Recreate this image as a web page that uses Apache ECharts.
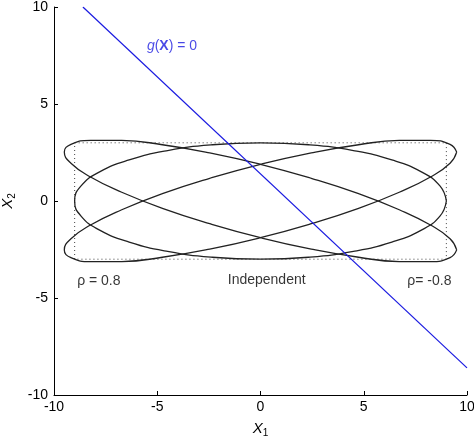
<!DOCTYPE html>
<html>
<head>
<meta charset="utf-8">
<script src="https://cdn.jsdelivr.net/npm/echarts@6/dist/echarts.min.js"></script>
<style>
  html, body { margin: 0; padding: 0; background: #fff; }
  #chart { width: 474px; height: 440px; }
</style>
</head>
<body>
<div id="chart"></div>
<script>
// Contours of X1-X2 for three correlation cases, with the limit-state line g(X) = 0
const FONT = '"Liberation Sans", Arial, Helvetica, sans-serif'

const xTicks = [-10, -5, 0, 5, 10]
const yTicks = [-10, -5, 0, 5, 10]

// dotted bounding box
const boxPts = [[-9, 3], [9, 3], [9, -3], [-9, -3], [-9, 3]]

// contour, independent case
const indepPts = [
  [9, 0], [8.69, 0.78], [7.79, 1.5], [6.36, 2.12], [4.5, 2.6], [2.33, 2.9], [0, 3],
  [-2.33, 2.9], [-4.5, 2.6], [-6.36, 2.12], [-7.79, 1.5], [-8.69, 0.78], [-9, 0],
  [-8.69, -0.78], [-7.79, -1.5], [-6.36, -2.12], [-4.5, -2.6], [-2.33, -2.9], [0, -3],
  [2.33, -2.9], [4.5, -2.6], [6.36, -2.12], [7.79, -1.5], [8.69, -0.78], [9, 0]
]

// contour, rho = -0.8 (tips upper-left / lower-right)
const negPts = [
  [9.5, -2.52], [9.18, -1.95], [8.23, -1.24], [6.72, -0.45], [4.75, 0.38], [2.46, 1.17], [0, 1.89],
  [-2.46, 2.48], [-4.75, 2.9], [-6.72, 3.12], [-8.23, 3.13], [-9.18, 2.92], [-9.5, 2.52],
  [-9.18, 1.95], [-8.23, 1.24], [-6.72, 0.45], [-4.75, -0.38], [-2.46, -1.17], [0, -1.89],
  [2.46, -2.48], [4.75, -2.9], [6.72, -3.12], [8.23, -3.13], [9.18, -2.92], [9.5, -2.52]
]

// contour, rho = 0.8 (tips lower-left / upper-right)
const posPts = [
  [9.5, 2.52], [9.18, 1.95], [8.23, 1.24], [6.72, 0.45], [4.75, -0.38], [2.46, -1.17], [0, -1.89],
  [-2.46, -2.48], [-4.75, -2.9], [-6.72, -3.12], [-8.23, -3.13], [-9.18, -2.92], [-9.5, -2.52],
  [-9.18, -1.95], [-8.23, -1.24], [-6.72, -0.45], [-4.75, 0.38], [-2.46, 1.17], [0, 1.89],
  [2.46, 2.48], [4.75, 2.9], [6.72, 3.12], [8.23, 3.13], [9.18, 2.92], [9.5, 2.52]
]

// limit-state line g(X) = 0
const limitPts = [[-8.6, 10], [10, -8.6]]

// annotations
const noteText = ['ρ = 0.8', 'Independent', 'ρ= -0.8']
const noteX = [-8.88, 0.3, 7.11]
const noteY = [-4.12, -4.07, -4.12]
const noteAlign = ['left', 'center', 'left']
const gLabelPos = [-5.5, 8]

const INK = '#222'
const BLUE = '#1a1ae0'

const chart = echarts.init(document.getElementById('chart'), null, { renderer: 'canvas' })

const axisCommon = {
  type: 'value', min: -10, max: 10, interval: 5,
  axisLine: { onZero: false, lineStyle: { color: '#000', width: 1 } },
  axisTick: { inside: true, length: 4, lineStyle: { color: '#000' } },
  splitLine: { show: false },
  axisLabel: { color: '#000', fontSize: 14, fontFamily: FONT },
  nameLocation: 'middle',
  nameTextStyle: {
    color: '#000', fontSize: 15, fontFamily: FONT,
    rich: {
      v: { fontStyle: 'italic', fontSize: 15, fontFamily: FONT, color: '#000', lineHeight: 18 },
      s: { fontSize: 10, fontFamily: FONT, color: '#000', lineHeight: 18, verticalAlign: 'bottom', padding: [6, 0, 0, 0] }
    }
  }
}

const curve = (data, z) => ({
  type: 'line', data, smooth: true, symbol: 'none', z,
  lineStyle: { color: INK, width: 1.3 }
})

chart.setOption({
  animation: false,
  textStyle: { fontFamily: FONT },
  grid: { left: 54, right: 7, top: 7, bottom: 45, containLabel: false, outerBoundsMode: 'none' },
  xAxis: Object.assign({}, axisCommon, {
    name: '{v|X}{s|1}', nameGap: 25,
    axisLabel: Object.assign({}, axisCommon.axisLabel, { margin: 5 })
  }),
  yAxis: Object.assign({}, axisCommon, {
    name: '{v|X}{s|2}', nameGap: 34,
    axisLabel: Object.assign({}, axisCommon.axisLabel, { margin: 6 })
  }),
  series: [
    {
      type: 'line', data: boxPts, symbol: 'none', z: 1,
      lineStyle: { color: '#444', width: 1, type: [1, 3] }
    },
    curve(indepPts, 2),
    curve(negPts, 2),
    curve(posPts, 2),
    {
      type: 'line', data: limitPts, symbol: 'none', z: 3,
      lineStyle: { color: BLUE, width: 1.2 }
    },
    {
      type: 'scatter', symbolSize: 0, z: 4, silent: true,
      data: noteText.map((t, i) => ({
        value: [noteX[i], noteY[i]],
        label: { show: true, formatter: t, position: 'inside', align: noteAlign[i], verticalAlign: 'middle' }
      })),
      label: { color: '#000', fontSize: 14, fontFamily: FONT }
    },
    {
      type: 'scatter', symbolSize: 0, z: 4, silent: true,
      data: [{
        value: gLabelPos,
        label: {
          show: true, position: 'inside', align: 'left', verticalAlign: 'middle',
          formatter: '{i|g}{n|(}{b|X}{n|) = 0}',
          rich: {
            i: { color: BLUE, fontSize: 14, fontStyle: 'italic', fontFamily: FONT },
            n: { color: BLUE, fontSize: 14, fontFamily: FONT },
            b: { color: BLUE, fontSize: 14, fontWeight: 'bold', fontFamily: FONT }
          }
        }
      }]
    }
  ]
})
</script>
</body>
</html>
